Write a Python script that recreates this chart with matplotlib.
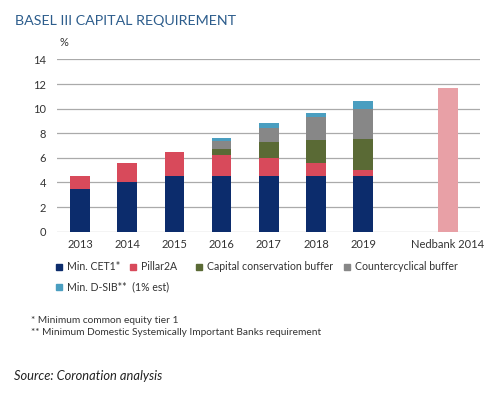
import numpy as np
import matplotlib
matplotlib.use('Agg')
import matplotlib.pyplot as plt
from matplotlib.patches import Rectangle

plt.rcParams['font.family'] = ['Lato', 'DejaVu Sans']

years = ['2013', '2014', '2015', '2016', '2017', '2018', '2019']
cet1 = [3.5, 4.0, 4.5, 4.5, 4.5, 4.5, 4.5]
pillar2a = [1.0, 1.6, 2.0, 1.75, 1.45, 1.05, 0.5]
ccb = [0, 0, 0, 0.5, 1.35, 1.9, 2.5]
ccyb = [0, 0, 0, 0.65, 1.1, 1.85, 2.5]
dsib = [0, 0, 0, 0.25, 0.45, 0.37, 0.65]
nedbank_label = 'Nedbank 2014'
nedbank_value = 11.7

series = [
    ('Min. CET1*', cet1, '#0c2c6c'),
    ('Pillar2A', pillar2a, '#d84a5b'),
    ('Capital conservation buffer', ccb, '#5a6a35'),
    ('Countercyclical buffer', ccyb, '#878787'),
    ('Min. D-SIB**  (1% est)', dsib, '#4a9ec0'),
]

fig = plt.figure(figsize=(5, 3.96), dpi=100)
ax = fig.add_axes([0.114, 0.415, 0.846, 0.435])

x = np.arange(len(years))
w = 0.42
bottom = np.zeros(len(years))
for name, vals, col in series:
    ax.bar(x, vals, w, bottom=bottom, color=col, zorder=3)
    bottom += np.array(vals)

x_ned = len(years) + 0.8
ax.bar([x_ned], [nedbank_value], w, color='#e8a0a6', zorder=3)

ax.set_xticks(list(x) + [x_ned])
ax.set_xticklabels(years + [nedbank_label], fontsize=8, color='#333333')
ax.set_xlim(-0.49, x_ned + 0.68)
ax.set_ylim(0, 14)
ax.set_yticks(range(0, 15, 2))
ax.tick_params(axis='y', labelsize=8, colors='#333333', length=0, pad=8)
ax.tick_params(axis='x', length=0, pad=5)
ax.grid(axis='y', color='#aaaaaa', lw=0.9, zorder=0)
for s in ax.spines.values():
    s.set_visible(False)

fig.text(0.12, 0.883, '%', fontsize=8, color='#333333')
fig.text(0.03, 0.937, 'BASEL III CAPITAL REQUIREMENT', fontsize=10.3,
         color='#2d5d8c')

# legend drawn by hand: (x px, y px) of each square, as laid out in the original
leg_pos = [(56, 267), (130, 267), (196, 267), (344, 267), (56, 287)]
W, H = 500.0, 396.0
sq = 6
for (name, vals, col), (px, py) in zip(series, leg_pos):
    fig.add_artist(Rectangle((px / W, 1 - (py + sq / 2) / H), sq / W, sq / H,
                             transform=fig.transFigure, color=col))
    fig.text((px + 11) / W, 1 - py / H, name, fontsize=7.6, color='#333333',
             va='center')

fig.text(0.062, 0.185, '* Minimum common equity tier 1', fontsize=7.3,
         color='#333333')
fig.text(0.062, 0.153, '** Minimum Domestic Systemically Important Banks requirement',
         fontsize=7.3, color='#333333')
fig.text(0.028, 0.04, 'Source: Coronation analysis', fontsize=9.3,
         style='italic', color='#222222')

fig.savefig('out.png', dpi=100)
